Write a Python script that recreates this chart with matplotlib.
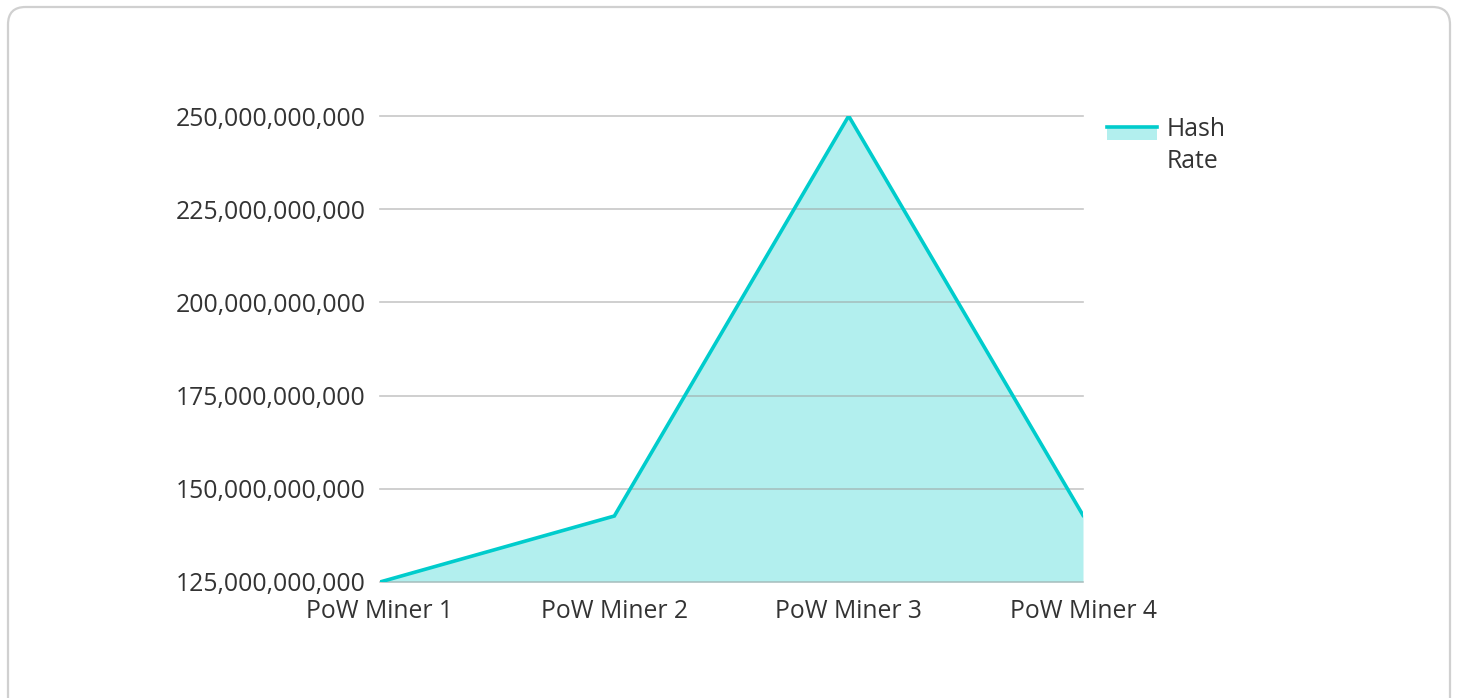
import matplotlib.pyplot as plt
import matplotlib.ticker as mticker
from matplotlib.patches import FancyBboxPatch, Rectangle
from matplotlib.lines import Line2D

# Hash rate per miner
miners = ['PoW Miner 1', 'PoW Miner 2', 'PoW Miner 3', 'PoW Miner 4']
hash_rate = [125e9, 142.7e9, 250e9, 142.9e9]
y_ticks = [125e9, 150e9, 175e9, 200e9, 225e9, 250e9]

line_color = '#00CCCC'
fill_color = '#B2EFEE'
text_color = '#333333'
fs = 17.8

plt.rcParams['font.family'] = ['Open Sans', 'DejaVu Sans']

W, H = 1458, 698
fig = plt.figure(figsize=(W / 100, H / 100), dpi=100)
fig.patch.set_facecolor('white')

# card border
card = FancyBboxPatch((8 / W, -20 / H), 1442 / W, (H - 7 + 20) / H,
                      boxstyle='round,pad=0,rounding_size=0.012',
                      transform=fig.transFigure, facecolor='none',
                      edgecolor='#D0D0D0', linewidth=1.6, mutation_aspect=W / H)
fig.add_artist(card)

ax = fig.add_axes([380 / W, 1 - 582 / H, (1083 - 380) / W, (582 - 116) / H])
x = list(range(len(miners)))
ax.fill_between(x, hash_rate, y_ticks[0], color=fill_color, linewidth=0, zorder=2)
ax.plot(x, hash_rate, color=line_color, linewidth=2.6, zorder=3, solid_joinstyle='miter')

ax.set_xlim(0, len(miners) - 1)
ax.set_ylim(y_ticks[0], y_ticks[-1])
ax.set_xticks(x)
ax.set_xticklabels(miners)
ax.set_yticks(y_ticks)
ax.yaxis.set_major_formatter(mticker.FuncFormatter(lambda v, p: f'{int(v):,}'))
for v in y_ticks:
    ax.axhline(v, color='#9A9A9A', alpha=0.55, linewidth=1.2, zorder=2.5, clip_on=False)
for s in ax.spines.values():
    s.set_visible(False)
ax.tick_params(axis='both', length=0, labelsize=fs, labelcolor=text_color)
ax.tick_params(axis='y', pad=10.5)
ax.tick_params(axis='x', pad=12)
ax.patch.set_alpha(0)

# legend
fig.add_artist(Rectangle((1107 / W, 1 - 140 / H), 50 / W, 14 / H,
                         transform=fig.transFigure, facecolor=fill_color, edgecolor='none'))
fig.add_artist(Line2D([1107 / W, 1157 / W], [1 - 127 / H, 1 - 127 / H],
                      transform=fig.transFigure, color=line_color, linewidth=2.6))
fig.text(1167 / W, 1 - 117 / H, 'Hash\nRate', fontsize=fs, color=text_color,
         va='top', ha='left', linespacing=1.38)

fig.savefig('out.png', dpi=100)
